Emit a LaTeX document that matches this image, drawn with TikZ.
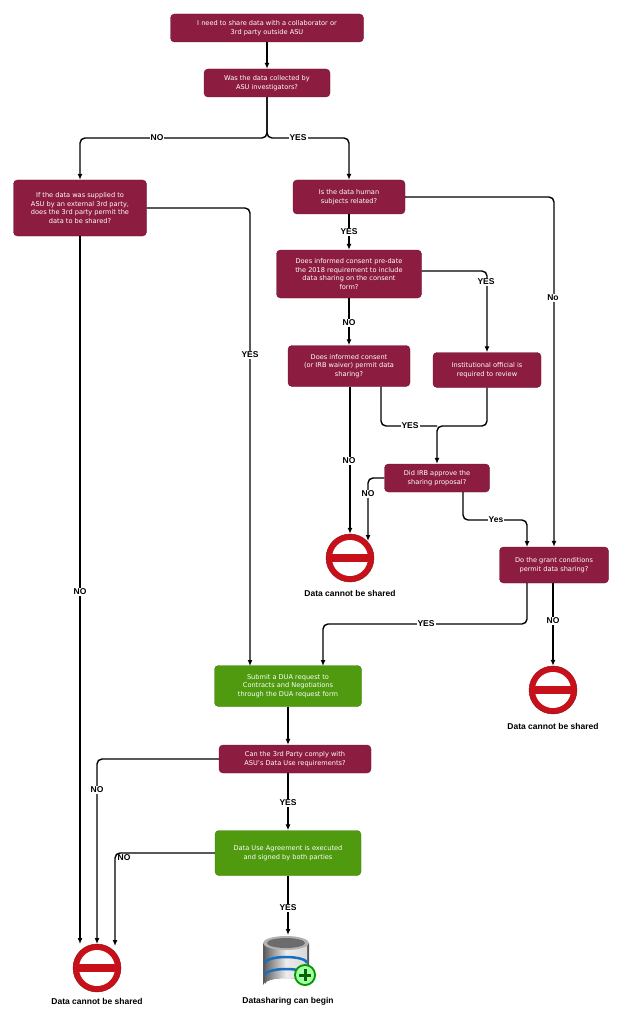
\documentclass[tikz,border=0pt]{standalone}
\usepackage{fontspec}
\setmainfont{DejaVu Sans}
\newfontfamily\lblfont{Liberation Sans}
\usetikzlibrary{arrows.meta}
\definecolor{maroon}{HTML}{8C1D40}
\definecolor{maroonD}{HTML}{6E1530}
\definecolor{grn}{HTML}{4F9A0E}
\definecolor{grnD}{HTML}{3E7C0A}
\definecolor{stopred}{HTML}{C8101A}
\begin{document}
\begin{tikzpicture}[x=1pt,y=-1pt,
  box/.style={rectangle,rounded corners=4,draw=maroonD,fill=maroon,text=white,
    font=\fontsize{6.6}{8.6}\selectfont,align=center,inner sep=1pt},
  gbox/.style={box,draw=grnD,fill=grn},
  line/.style={line width=1.4pt,rounded corners=5,-{Latex[length=6pt,width=5pt]}},
  plain/.style={line width=1.4pt,rounded corners=5},
  lbl/.style={fill=white,inner sep=1pt,font=\lblfont\bfseries\fontsize{8.5}{9}\selectfont},
  captxt/.style={font=\lblfont\bfseries\fontsize{8.5}{9}\selectfont},
  stop/.style={circle,minimum size=48pt,inner sep=0pt,fill=stopred,draw=stopred!70!black,
    path picture={
      \fill[white] (path picture bounding box.center) circle (18pt);
      \fill[stopred,shift={(path picture bounding box.center)},rotate=-45] (-20,-4) rectangle (20,4);
    }}]
\useasboundingbox[fill=white] (0,0) rectangle (627,1024);

\node[box,minimum width=193,minimum height=28] (n1) at (267,28) {I need to share data with a collaborator or\\3rd party outside ASU};
\node[box,minimum width=126,minimum height=28] (n2) at (267,83) {Was the data collected by\\ASU investigators?};
\node[box,minimum width=133,minimum height=56] (n3) at (80,208) {If the data was supplied to\\ASU by an external 3rd party,\\does the 3rd party permit the\\data to be shared?};
\node[box,minimum width=112,minimum height=34] (n4) at (349,197) {Is the data human\\subjects related?};
\node[box,minimum width=145,minimum height=48] (n5) at (349,274) {Does informed consent pre-date\\the 2018 requirement to include\\data sharing on the consent\\form?};
\node[box,minimum width=122,minimum height=41] (n6) at (349,366) {Does informed consent\\(or IRB waiver) permit data\\sharing?};
\node[box,minimum width=108,minimum height=35] (n7) at (487,370) {Institutional official is\\required to review};
\node[box,minimum width=105,minimum height=28] (n8) at (437,478) {Did IRB approve the\\sharing proposal?};
\node[box,minimum width=109,minimum height=36] (n9) at (554,565) {Do the grant conditions\\permit data sharing?};
\node[gbox,minimum width=147,minimum height=41] (n10) at (288,686) {Submit a DUA request to\\Contracts and Negotiations\\through the DUA request form};
\node[box,minimum width=152,minimum height=28] (n11) at (295,759) {Can the 3rd Party comply with\\ASU's Data Use requirements?};
\node[gbox,minimum width=146,minimum height=45] (n12) at (288,853) {Data Use Agreement is executed\\and signed by both parties};

\node[stop] (s1) at (350,558) {};
\node[captxt] (c1) at (350,593) {Data cannot be shared};
\node[stop] (s2) at (553,690) {};
\node[captxt] (c2) at (553,726) {Data cannot be shared};
\node[stop] (s3) at (97,968) {};
\node[captxt] (c3) at (97,1001) {Data cannot be shared};

% database icon
\node[minimum width=46pt,minimum height=56pt,inner sep=0pt] (db) at (286,963) {};
\begin{scope}[shift={(db.center)}]
  \fill[gray!70!black] (-23,-20) -- (-23,22) arc[x radius=23,y radius=7,start angle=180,end angle=360] -- (23,-20) -- cycle;
  \shade[left color=gray!80!black,right color=gray!30,middle color=gray!15] (-21,-20) -- (-21,21) arc[x radius=21,y radius=6,start angle=180,end angle=360] -- (21,-20) -- cycle;
  \fill[gray!60] (0,-20) ellipse[x radius=23,y radius=7];
  \fill[gray!85!black] (0,-20) ellipse[x radius=19,y radius=5];
  \draw[line width=2.5pt,cyan!50!blue] (-21,0) arc[x radius=21,y radius=6,start angle=180,end angle=360];
  \draw[line width=2.5pt,cyan!50!blue] (-21,12) arc[x radius=21,y radius=6,start angle=180,end angle=360];
  \fill[green!60!black] (19,12) circle (11);
  \fill[green!35!white] (19,12) circle (9);
  \fill[green!40!black] (13,10.5) rectangle (25,13.5);
  \fill[green!40!black] (17.5,6) rectangle (20.5,18);
\end{scope}
\node[captxt] (c4) at (288,1001) {Datasharing can begin};

% connectors
\draw[line] (n1) -- (n2);
\draw[line] (n2.south) |- (180,138) -| (n3.north);
\node[lbl] (lno1) at (157,138) {NO};
\draw[line] (n2.south) |- (320,138) -| (n4.north);
\node[lbl] (lyes1) at (298,138) {YES};
\draw[line] (n3.east |- 0,208) -| (250,666);
\node[lbl] (lyes2) at (250,355) {YES};
\draw[line] (n3.south) -- (80,944);
\node[lbl] (lno2) at (80,592) {NO};
\draw[line] (n4.east) -| (n9.north);
\node[lbl] (lno3) at (553,298) {No};
\draw[line] (n4) -- (n5);
\node[lbl] (lyes3) at (349,232) {YES};
\draw[line] (n5.east |- 0,271) -| (n7.north);
\node[lbl] (lyes4) at (486,282) {YES};
\draw[line] (n5) -- (n6);
\node[lbl] (lno4) at (349,323) {NO};
\draw[line] (n6.south -| 350,0) -- (s1.north);
\node[lbl] (lno5) at (349,461) {NO};
\draw[plain] (381,386.5) |- (437,426);
\draw[line] (n7.south) |- (437,426) -- (n8.north);
\node[lbl] (lyes5) at (410,426) {YES};
\draw[line] (n8.west) -| (368,541);
\node[lbl] (lno6) at (368,494) {NO};
\draw[line] (463,492) |- (527,520) -- (527,547);
\node[lbl] (lyes6) at (496,520) {Yes};
\draw[line] (527,583) |- (323,624) -- (323,666);
\node[lbl] (lyes7) at (426,624) {YES};
\draw[line] (n9.south -| s2) -- (s2.north);
\node[lbl] (lno7) at (553,621) {NO};
\draw[line] (n10.south) -- (n10.south |- n11.north);
\draw[line] (n11.west) -| (97,944);
\node[lbl] (lno8) at (97,790) {NO};
\draw[line] (n11.south -| n12) -- (n12.north);
\node[lbl] (lyes8) at (288,803) {YES};
\draw[line] (n12.west) -| (115,946);
\node[lbl,fill=none] (lno9) at (124,858) {NO};
\draw[line] (n12.south) -- (288,935);
\node[lbl] (lyes9) at (288,908) {YES};
\end{tikzpicture}
\end{document}
